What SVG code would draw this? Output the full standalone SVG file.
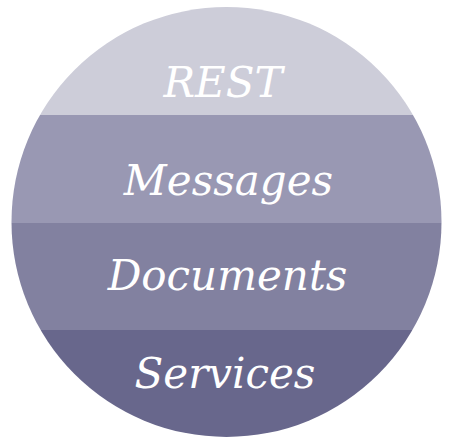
<svg xmlns="http://www.w3.org/2000/svg" width="452" height="444" viewBox="0 0 452 444">
<style>
.lbl{font-family:"DejaVu Serif","Liberation Serif",serif;font-style:italic;font-size:42px;fill:#ffffff;text-anchor:middle}
</style>
<defs>
<clipPath id="disc"><circle cx="226.5" cy="222" r="215"/></clipPath>
</defs>
<rect width="452" height="444" fill="#ffffff"/>
<g clip-path="url(#disc)">
<g id="rest"><rect x="0" y="0" width="452" height="115" fill="#cdcdd9"/><text class="lbl" x="223" y="97">REST</text></g>
<g id="messages"><rect x="0" y="115" width="452" height="108" fill="#9998b3"/><text class="lbl" x="228.5" y="195">Messages</text></g>
<g id="documents"><rect x="0" y="223" width="452" height="107" fill="#8281a0"/><text class="lbl" x="227.5" y="290">Documents</text></g>
<g id="services"><rect x="0" y="330" width="452" height="114" fill="#68678c"/><text class="lbl" x="225" y="388">Services</text></g>
</g>
<g id="connectors"/>
</svg>
